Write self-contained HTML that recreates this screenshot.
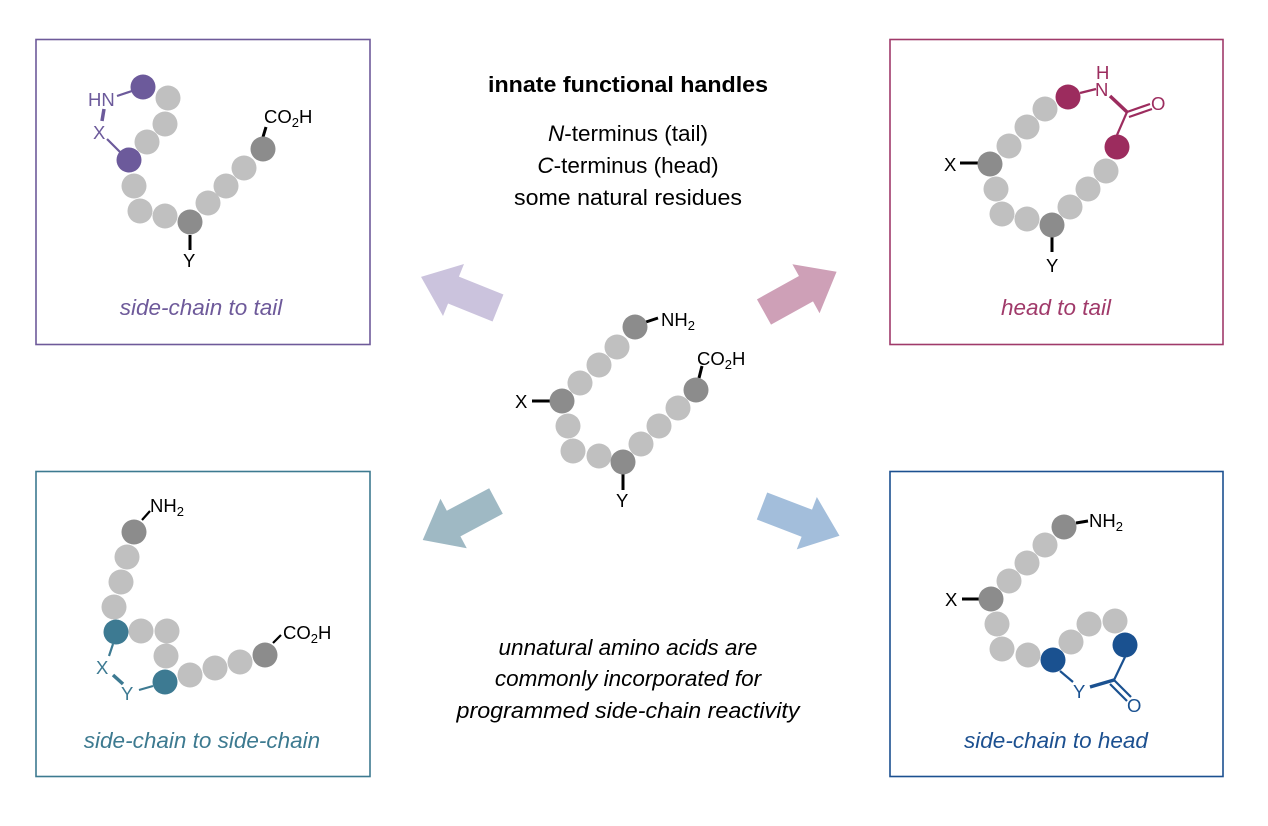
<!DOCTYPE html>
<html><head><meta charset="utf-8"><style>
html,body{margin:0;padding:0;background:#fff;}
svg{display:block;}
text{font-family:"Liberation Sans",Arial,sans-serif;}
</style></head><body>
<svg width="1268" height="826" viewBox="0 0 1268 826" xmlns="http://www.w3.org/2000/svg">
<defs>
<g id="arr"><polygon points="0,-14.5 48,-14.5 48,-28 83,0 48,28 48,14.5 0,14.5"/></g>
</defs>
<rect x="36" y="39.5" width="334" height="305" fill="none" stroke="#6e5a9a" stroke-width="1.6"/>
<rect x="890" y="39.5" width="333" height="305" fill="none" stroke="#a03a6a" stroke-width="1.6"/>
<rect x="36" y="471.5" width="334" height="305" fill="none" stroke="#3d7a90" stroke-width="1.6"/>
<rect x="890" y="471.5" width="333" height="305" fill="none" stroke="#1c5090" stroke-width="1.6"/>

<use href="#arr" fill="#cbc3dd" transform="translate(498,308) rotate(202)"/>
<use href="#arr" fill="#cea0b7" transform="translate(764,312) rotate(-29)"/>
<use href="#arr" fill="#9fb9c4" transform="translate(496,501) rotate(152)"/>
<use href="#arr" fill="#a3bedb" transform="translate(762,506) rotate(21)"/>

<text x="628" y="92" font-size="22.5" font-weight="bold" text-anchor="middle" textLength="280" lengthAdjust="spacingAndGlyphs">innate functional handles</text>
<text x="628" y="141" font-size="22.5" text-anchor="middle"><tspan font-style="italic">N</tspan>-terminus (tail)</text>
<text x="628" y="173" font-size="22.5" text-anchor="middle"><tspan font-style="italic">C</tspan>-terminus (head)</text>
<text x="628" y="205" font-size="22.5" text-anchor="middle" textLength="228" lengthAdjust="spacingAndGlyphs">some natural residues</text>
<g font-size="22.5" font-style="italic" text-anchor="middle">
<text x="628" y="655">unnatural amino acids are</text>
<text x="628" y="686">commonly incorporated for</text>
<text x="628" y="718" textLength="343" lengthAdjust="spacingAndGlyphs">programmed side-chain reactivity</text>
</g>

<g font-size="22.5" font-style="italic" text-anchor="middle">
<text x="201" y="315" fill="#6e5a9a">side-chain to tail</text>
<text x="1056" y="315" fill="#a03a6a">head to tail</text>
<text x="202" y="748" fill="#3d7a90">side-chain to side-chain</text>
<text x="1056" y="748" fill="#1c5090">side-chain to head</text>
</g>

<!-- CENTER -->
<g stroke="#000" stroke-width="3"><line x1="532" y1="401" x2="550" y2="401"/><line x1="623" y1="474" x2="623" y2="490"/><line x1="646" y1="322" x2="658" y2="318"/><line x1="699" y1="378" x2="702" y2="366"/></g>
<g fill="#c0c0c0">
<circle cx="617" cy="347" r="12.5"/><circle cx="599" cy="365" r="12.5"/><circle cx="580" cy="383" r="12.5"/>
<circle cx="568" cy="426" r="12.5"/><circle cx="573" cy="451" r="12.5"/><circle cx="599" cy="456" r="12.5"/>
<circle cx="641" cy="444" r="12.5"/><circle cx="659" cy="426" r="12.5"/><circle cx="678" cy="408" r="12.5"/>
</g>
<g fill="#8c8c8c"><circle cx="635" cy="327" r="12.5"/><circle cx="562" cy="401" r="12.5"/><circle cx="623" cy="462" r="12.5"/><circle cx="696" cy="390" r="12.5"/></g>
<g font-size="18.5"><text x="515" y="408">X</text><text x="616" y="507">Y</text>
<text x="661" y="326">NH<tspan font-size="13" dy="4">2</tspan></text>
<text x="697" y="365">CO<tspan font-size="13" dy="4">2</tspan><tspan dy="-4">H</tspan></text></g>

<!-- TOP LEFT -->
<g stroke="#000" stroke-width="3"><line x1="190" y1="235" x2="190" y2="250"/><line x1="263" y1="137" x2="266" y2="127"/></g>
<g stroke="#6c5a9b" stroke-width="2.2"><line x1="117" y1="96" x2="132" y2="91"/><line x1="107" y1="139" x2="120" y2="152"/></g>
<line x1="104" y1="109" x2="102" y2="121" stroke="#6c5a9b" stroke-width="3.5"/>
<g fill="#c0c0c0">
<circle cx="168" cy="98" r="12.5"/><circle cx="165" cy="124" r="12.5"/><circle cx="147" cy="142" r="12.5"/>
<circle cx="134" cy="186" r="12.5"/><circle cx="140" cy="211" r="12.5"/><circle cx="165" cy="216" r="12.5"/>
<circle cx="208" cy="203" r="12.5"/><circle cx="226" cy="186" r="12.5"/><circle cx="244" cy="168" r="12.5"/>
</g>
<g fill="#8c8c8c"><circle cx="190" cy="222" r="12.5"/><circle cx="263" cy="149" r="12.5"/></g>
<g fill="#6c5a9b"><circle cx="143" cy="87" r="12.5"/><circle cx="129" cy="160" r="12.5"/></g>
<g font-size="18.5"><text x="88" y="106" fill="#6c5a9b">HN</text><text x="93" y="139" fill="#6c5a9b">X</text>
<text x="183" y="267">Y</text>
<text x="264" y="123">CO<tspan font-size="13" dy="4">2</tspan><tspan dy="-4">H</tspan></text></g>

<!-- TOP RIGHT -->
<g stroke="#000" stroke-width="3"><line x1="960" y1="163" x2="978" y2="163"/><line x1="1052" y1="237" x2="1052" y2="252"/></g>
<g stroke="#9c2c5e" stroke-width="2.2" fill="none"><line x1="1080" y1="93" x2="1096" y2="89"/><line x1="1117" y1="135" x2="1127" y2="112"/><line x1="1127" y1="112" x2="1150" y2="104"/><line x1="1129" y1="117" x2="1152" y2="109"/></g>
<line x1="1110" y1="96" x2="1127" y2="112" stroke="#9c2c5e" stroke-width="3.5"/>
<g fill="#c0c0c0">
<circle cx="1045" cy="109" r="12.5"/><circle cx="1027" cy="127" r="12.5"/><circle cx="1009" cy="146" r="12.5"/>
<circle cx="996" cy="189" r="12.5"/><circle cx="1002" cy="214" r="12.5"/><circle cx="1027" cy="219" r="12.5"/>
<circle cx="1070" cy="207" r="12.5"/><circle cx="1088" cy="189" r="12.5"/><circle cx="1106" cy="171" r="12.5"/>
</g>
<g fill="#8c8c8c"><circle cx="990" cy="164" r="12.5"/><circle cx="1052" cy="225" r="12.5"/></g>
<g fill="#9c2c5e"><circle cx="1068" cy="97" r="12.5"/><circle cx="1117" cy="147" r="12.5"/></g>
<g font-size="18.5"><text x="944" y="171">X</text><text x="1046" y="272">Y</text>
<text x="1096" y="79" fill="#9c2c5e">H</text><text x="1095" y="96" fill="#9c2c5e">N</text><text x="1151" y="110" fill="#9c2c5e">O</text></g>

<!-- BOTTOM LEFT -->
<g stroke="#000" stroke-width="2.2"><line x1="142" y1="520" x2="150" y2="511"/><line x1="273" y1="643" x2="281" y2="635"/></g>
<g stroke="#3d7a92" stroke-width="2.2"><line x1="113" y1="644" x2="109" y2="656"/><line x1="139" y1="690" x2="153" y2="686"/></g>
<line x1="113" y1="675" x2="123" y2="684" stroke="#3d7a92" stroke-width="3.5"/>
<g fill="#c0c0c0">
<circle cx="127" cy="557" r="12.5"/><circle cx="121" cy="582" r="12.5"/><circle cx="114" cy="607" r="12.5"/>
<circle cx="141" cy="631" r="12.5"/><circle cx="167" cy="631" r="12.5"/><circle cx="166" cy="656" r="12.5"/>
<circle cx="190" cy="675" r="12.5"/><circle cx="215" cy="668" r="12.5"/><circle cx="240" cy="662" r="12.5"/>
</g>
<g fill="#8c8c8c"><circle cx="134" cy="532" r="12.5"/><circle cx="265" cy="655" r="12.5"/></g>
<g fill="#3d7a92"><circle cx="116" cy="632" r="12.5"/><circle cx="165" cy="682" r="12.5"/></g>
<g font-size="18.5"><text x="96" y="674" fill="#3d7a92">X</text><text x="121" y="700" fill="#3d7a92">Y</text>
<text x="150" y="512">NH<tspan font-size="13" dy="4">2</tspan></text>
<text x="283" y="639">CO<tspan font-size="13" dy="4">2</tspan><tspan dy="-4">H</tspan></text></g>

<!-- BOTTOM RIGHT -->
<g stroke="#000" stroke-width="3"><line x1="962" y1="599" x2="979" y2="599"/><line x1="1076" y1="523" x2="1088" y2="521"/></g>
<g stroke="#1a5190" stroke-width="2.2" fill="none"><line x1="1060" y1="671" x2="1073" y2="682"/><line x1="1125" y1="657" x2="1114" y2="680"/><line x1="1114" y1="680" x2="1131" y2="697"/><line x1="1110" y1="684" x2="1127" y2="701"/></g>
<line x1="1090" y1="687" x2="1114" y2="680" stroke="#1a5190" stroke-width="3.5"/>
<g fill="#c0c0c0">
<circle cx="1045" cy="545" r="12.5"/><circle cx="1027" cy="563" r="12.5"/><circle cx="1009" cy="581" r="12.5"/>
<circle cx="997" cy="624" r="12.5"/><circle cx="1002" cy="649" r="12.5"/><circle cx="1028" cy="655" r="12.5"/>
<circle cx="1071" cy="642" r="12.5"/><circle cx="1089" cy="624" r="12.5"/><circle cx="1115" cy="621" r="12.5"/>
</g>
<g fill="#8c8c8c"><circle cx="1064" cy="527" r="12.5"/><circle cx="991" cy="599" r="12.5"/></g>
<g fill="#1a5190"><circle cx="1053" cy="660" r="12.5"/><circle cx="1125" cy="645" r="12.5"/></g>
<g font-size="18.5"><text x="945" y="606">X</text>
<text x="1089" y="527">NH<tspan font-size="13" dy="4">2</tspan></text>
<text x="1073" y="698" fill="#1a5190">Y</text><text x="1127" y="712" fill="#1a5190">O</text></g>
</svg>
</body></html>
